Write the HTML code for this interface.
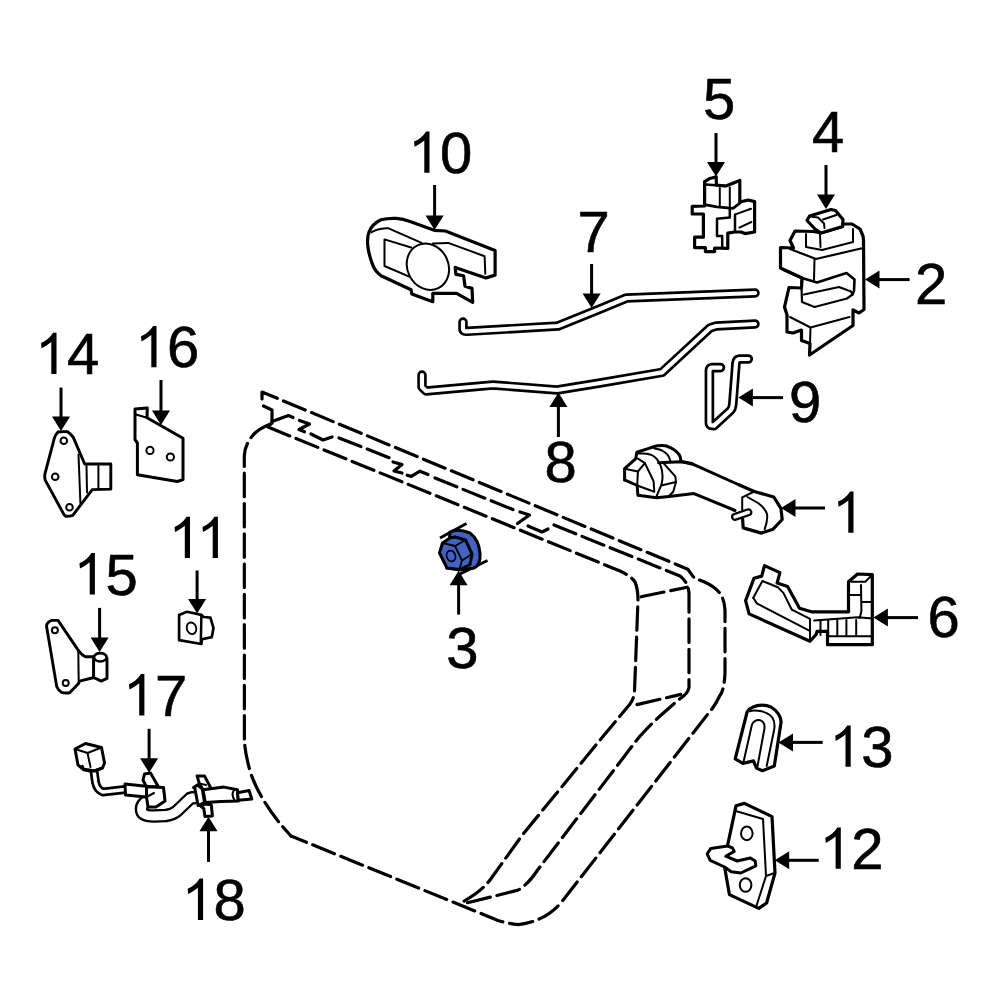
<!DOCTYPE html>
<html><head><meta charset="utf-8"><title>Door latch parts diagram</title>
<style>html,body{margin:0;padding:0;background:#fff;width:1000px;height:1000px;overflow:hidden}
svg{display:block}
text{font-family:"Liberation Sans",sans-serif;font-size:58px;fill:#000;stroke:#000;stroke-width:0.6px}</style></head>
<body><svg width="1000" height="1000" viewBox="0 0 1000 1000">
<rect width="1000" height="1000" fill="#fff"/>
<path d="M262,399 L262,392 L687.8,569.2 L694.4,578.2 L704,581.8 Q716,587 721,595 Q724.6,601 725,610 L725,672 Q724.5,690 719.6,696 Q715,706 708.8,712.8 L563.2,900 Q553,913 540,918.6 Q530,923.5 518.4,924.6 Q507,923.5 498,920.4 L291,836" fill="none" stroke="#000" stroke-width="3.20" stroke-linejoin="round" stroke-linecap="round" stroke-dasharray="23.5 6.8"/>
<path d="M270,424.2 Q255,430 249.5,440 Q244.4,447.5 244.3,456 L244.4,738 Q244.4,752 250.8,773.6 Q262,805 291,836" fill="none" stroke="#000" stroke-width="3.20" stroke-linejoin="round" stroke-linecap="round" stroke-dasharray="23.5 6.8"/>
<path d="M268,427 L620,571 Q631,576 635,582 Q638,589 638,600 L634.4,694 Q633,700 630,704 L600,740 L521.6,836 L490,880 Q481,892 462.4,902" fill="none" stroke="#000" stroke-width="3.20" stroke-linejoin="round" stroke-linecap="round" stroke-dasharray="23.5 6.8"/>
<path d="M263.5,406 L272,410 L272,423 L269,425.5" fill="none" stroke="#000" stroke-width="3.20" stroke-linejoin="round" stroke-linecap="round" />
<path d="M272,421.5 L288.5,415.5 L293,417.5" fill="none" stroke="#000" stroke-width="3.20" stroke-linejoin="round" stroke-linecap="round" />
<path d="M299.5,420.5 L309.5,424 L299,429.5 L304.5,431.8" fill="none" stroke="#000" stroke-width="3.20" stroke-linejoin="round" stroke-linecap="round" />
<path d="M311,434 L323,440 L332,437" fill="none" stroke="#000" stroke-width="3.20" stroke-linejoin="round" stroke-linecap="round" />
<path d="M339,438 L390,458" fill="none" stroke="#000" stroke-width="3.20" stroke-linejoin="round" stroke-linecap="round" stroke-dasharray="23.5 6.8"/>
<path d="M393,462 L402,464.5 L394,471 L402,473" fill="none" stroke="#000" stroke-width="3.20" stroke-linejoin="round" stroke-linecap="round" />
<path d="M407.2,475.2 L411.2,476.4 L420,471.2 L428,474.5" fill="none" stroke="#000" stroke-width="3.20" stroke-linejoin="round" stroke-linecap="round" />
<path d="M435,478 L514,510" fill="none" stroke="#000" stroke-width="3.20" stroke-linejoin="round" stroke-linecap="round" stroke-dasharray="23.5 6.8"/>
<path d="M520,512 L529.5,515 L517.5,523.5" fill="none" stroke="#000" stroke-width="3.20" stroke-linejoin="round" stroke-linecap="round" />
<path d="M528,526 L542,532 L548,529" fill="none" stroke="#000" stroke-width="3.20" stroke-linejoin="round" stroke-linecap="round" />
<path d="M554,525 L680,576 Q684,579 688,586 L689,593 L689,687.6 Q688,694 678.8,699.6 L660,716 Q645,730 636.8,740 L537.6,870 Q531,880 524.4,885.6 Q521,889 517.2,890.4 L464,903.6" fill="none" stroke="#000" stroke-width="3.20" stroke-linejoin="round" stroke-linecap="round" stroke-dasharray="23.5 6.8"/>
<path d="M641,596.8 L687.2,587.2" fill="none" stroke="#000" stroke-width="3.20" stroke-linejoin="round" stroke-linecap="round" stroke-dasharray="23.5 6.8"/>
<path d="M637,704.6 L680.8,694.4" fill="none" stroke="#000" stroke-width="3.20" stroke-linejoin="round" stroke-linecap="round" stroke-dasharray="23.5 6.8"/>
<path d="M434.2,230.3 L445.4,231 L495.1,250.6 L495.1,275.1 L486,277.9 L455.2,267.4 L455.9,274.4 L463.6,275.8 L465,286.3 L472,288.4 L472.7,302.4 L456.6,293.3 L432.8,293.3 L432.8,301.7 L411.8,294 L411.1,289.8 L381,275.8 Q375,271 372.6,264.6 Q368.5,254 367.7,245 Q367,237 369,232 Q372,224 381,219.8 Q388,218 396.4,218.4 Q403,219 410,221.5 Z" fill="#fff" stroke="#000" stroke-width="3.20" stroke-linejoin="round" stroke-linecap="round" />
<path d="M371.2,232.4 Q375,230 380,229 Q385,228 388,228.2 L421.6,242.9" fill="none" stroke="#000" stroke-width="2.00" stroke-linejoin="round" stroke-linecap="round" />
<path d="M432.8,243.6 L448.2,242.9 L484.6,256.2 L485.3,273.7" fill="none" stroke="#000" stroke-width="2.00" stroke-linejoin="round" stroke-linecap="round" />
<path d="M411.1,247.5 L384.5,239.4 L384.5,266.0 L410.4,277.2" fill="none" stroke="#000" stroke-width="2.00" stroke-linejoin="round" stroke-linecap="round" />
<ellipse cx="427.9" cy="266.7" rx="20.5" ry="23.8" transform="rotate(-26 427.9 266.7)" fill="#fff" stroke="#000" stroke-width="2"/>
<path d="M704.6,181.6 L709.0,178.8 L716.2,176.8 L716.4,185.2 L725.8,186.0 L739.8,180.4 L739.8,202.0 L748.2,200.0 L754.6,201.6 L754.6,232.0 L745.0,233.6 L741.0,232.0 L734.6,232.0 L727.8,233.2 L727.8,248.4 L714.6,248.0 L714.6,251.6 L705.4,251.6 L705.4,247.6 L694.6,247.6 L694.6,237.2 L703.4,237.2 L703.4,214.0 L692.2,214.0 L692.2,206.4 L704.6,206.0 Z" fill="#fff" stroke="#000" stroke-width="3.20" stroke-linejoin="round" stroke-linecap="round" />
<path d="M705.8,184.4 L725.8,186.0" fill="none" stroke="#000" stroke-width="2.50" stroke-linejoin="round" stroke-linecap="round" />
<path d="M719.8,188.0 L719.8,205.2" fill="none" stroke="#000" stroke-width="2.00" stroke-linejoin="round" stroke-linecap="round" />
<path d="M729.8,187.6 L729.8,208.4" fill="none" stroke="#000" stroke-width="2.00" stroke-linejoin="round" stroke-linecap="round" />
<path d="M705.8,204.8 L717.0,206.8 L733.0,208.4 L740.2,202.8" fill="none" stroke="#000" stroke-width="2.80" stroke-linejoin="round" stroke-linecap="round" />
<path d="M729.8,208.8 L729.8,217.6 L717.0,218.8 L717.0,236.0 L722.2,236.0 L722.2,247.2" fill="none" stroke="#000" stroke-width="2.50" stroke-linejoin="round" stroke-linecap="round" />
<path d="M735.0,214.8 L735.0,231.6" fill="none" stroke="#000" stroke-width="2.50" stroke-linejoin="round" stroke-linecap="round" />
<path d="M735.4,214.4 L751.0,208.8" fill="none" stroke="#000" stroke-width="2.00" stroke-linejoin="round" stroke-linecap="round" />
<path d="M739.4,227.6 L751.4,222.0" fill="none" stroke="#000" stroke-width="2.00" stroke-linejoin="round" stroke-linecap="round" />
<path d="M795.0,231.0 L813.5,231.5 L821.0,233.0 L842.5,226.5 L843.0,224.0 L852.0,224.0 L860.0,229.0 L863.0,236.0 L863.5,240.0 L864.0,309.5 L859.0,313.0 L853.0,310.0 L853.0,325.5 L809.5,355.0 L810.0,343.5 L801.5,340.5 L801.5,330.0 L793.0,333.0 L787.0,332.0 L787.0,315.0 L784.5,307.0 L789.0,287.5 L801.5,288.0 L802.0,278.0 L780.5,268.0 L780.5,247.5 L793.5,248.0 L790.0,240.5 Z" fill="#fff" stroke="#000" stroke-width="3.20" stroke-linejoin="round" stroke-linecap="round" />
<path d="M807.0,220.5 L809.5,216.0 L831.0,209.5 L835.5,210.5 L843.0,219.5 L842.5,226.5 L821.0,233.0 L815.0,229.0 Z" fill="#fff" stroke="#000" stroke-width="3.20" stroke-linejoin="round" stroke-linecap="round" />
<path d="M810.0,216.5 L818.0,217.5 L824.0,223.5 L824.5,228.0" fill="none" stroke="#000" stroke-width="2.00" stroke-linejoin="round" stroke-linecap="round" />
<path d="M823.0,219.5 L836.5,215.0" fill="none" stroke="#000" stroke-width="2.00" stroke-linejoin="round" stroke-linecap="round" />
<path d="M806.0,234.0 L806.0,247.0 L822.0,250.0 L853.0,242.0 L853.0,229.0" fill="none" stroke="#000" stroke-width="2.00" stroke-linejoin="round" stroke-linecap="round" />
<path d="M820.0,234.0 L820.5,247.0" fill="none" stroke="#000" stroke-width="2.00" stroke-linejoin="round" stroke-linecap="round" />
<path d="M790.0,249.0 L816.0,259.0 L863.0,248.0" fill="none" stroke="#000" stroke-width="2.20" stroke-linejoin="round" stroke-linecap="round" />
<path d="M814.5,259.0 L814.0,280.0" fill="none" stroke="#000" stroke-width="2.00" stroke-linejoin="round" stroke-linecap="round" />
<path d="M784.0,270.0 L802.0,278.0 L817.0,282.5 L846.5,273.0 L854.5,279.5 L854.0,291.0 L852.5,294.5" fill="none" stroke="#000" stroke-width="2.60" stroke-linejoin="round" stroke-linecap="round" />
<path d="M804.0,294.5 L839.0,287.0 L851.0,291.5 L852.5,294.5 L847.0,298.5 L814.5,307.0 L802.0,302.0 L801.5,288.0" fill="none" stroke="#000" stroke-width="2.20" stroke-linejoin="round" stroke-linecap="round" />
<path d="M790.0,317.0 L810.5,327.5 L849.5,317.0" fill="none" stroke="#000" stroke-width="2.00" stroke-linejoin="round" stroke-linecap="round" />
<path d="M810.5,327.5 L810.0,343.5" fill="none" stroke="#000" stroke-width="2.00" stroke-linejoin="round" stroke-linecap="round" />
<path d="M802.0,278.0 L801.5,288.0" fill="none" stroke="#000" stroke-width="2.60" stroke-linejoin="round" stroke-linecap="round" />
<path d="M463,322 L463,329 Q463,331.5 467,331.3 L558,326 L600,309 L626.5,298 L755,293" fill="none" stroke="#000" stroke-width="9.5" stroke-linejoin="round" stroke-linecap="round"/>
<path d="M463,322 L463,329 Q463,331.5 467,331.3 L558,326 L600,309 L626.5,298 L755,293" fill="none" stroke="#fff" stroke-width="4.2" stroke-linejoin="round" stroke-linecap="round"/>
<path d="M422,375 L422,387 L426,391 L493,385 L557,390 L600,383 L662,372.4 L710,328 L716,326 L755,324" fill="none" stroke="#000" stroke-width="9.5" stroke-linejoin="round" stroke-linecap="round"/>
<path d="M422,375 L422,387 L426,391 L493,385 L557,390 L600,383 L662,372.4 L710,328 L716,326 L755,324" fill="none" stroke="#fff" stroke-width="4.2" stroke-linejoin="round" stroke-linecap="round"/>
<path d="M720.5,367.6 L712,367.6 Q709.4,368 709.4,371 L709.4,423 Q709.6,425.2 712,425.4 L714,425.6 L730.5,410.5 Q732.4,408.5 732.8,404 L736,363 Q736.5,359.3 739.5,359 L748.3,359" fill="none" stroke="#000" stroke-width="9.6" stroke-linejoin="round" stroke-linecap="round"/>
<path d="M720.5,367.6 L712,367.6 Q709.4,368 709.4,371 L709.4,423 Q709.6,425.2 712,425.4 L714,425.6 L730.5,410.5 Q732.4,408.5 732.8,404 L736,363 Q736.5,359.3 739.5,359 L748.3,359" fill="none" stroke="#fff" stroke-width="4.2" stroke-linejoin="round" stroke-linecap="round"/>
<path d="M680.6,461.2 L692.8,464.2 L739.3,485.0" fill="none" stroke="#000" stroke-width="3.00" stroke-linejoin="round" stroke-linecap="round" />
<path d="M669.0,496.4 L694.0,493.6 L735.0,510.5" fill="none" stroke="#000" stroke-width="3.00" stroke-linejoin="round" stroke-linecap="round" />
<path d="M742.2,497.4 L754.3,491.5 L773.8,497 L780.9,508.4 L782.2,519.5 L773.1,529.2 L761.4,533.1 L743.2,527.9 L742.6,518.8 Z" fill="#fff" stroke="none"/>
<path d="M739.3,485 L754.3,491.5 L773.8,497 L780.9,508.4 L782.2,519.5 L773.1,529.2 L761.4,533.1 L743.2,527.9 L742.6,518.8" fill="none" stroke="#000" stroke-width="3.20" stroke-linejoin="round" stroke-linecap="round" />
<path d="M742.2,509.7 L742.2,497.4 L754.3,491.5" fill="none" stroke="#000" stroke-width="2.00" stroke-linejoin="round" stroke-linecap="round" />
<path d="M747.4,497 L758,503 Q765,508 767,514 Q768,520 764.7,529.2" fill="none" stroke="#000" stroke-width="2.00" stroke-linejoin="round" stroke-linecap="round" />
<path d="M735,516.9 L748.4,512.3" fill="none" stroke="#000" stroke-width="8" stroke-linecap="round"/>
<path d="M735,516.9 L748.4,512.3" fill="none" stroke="#fff" stroke-width="3.6" stroke-linecap="round"/>
<path d="M624.6,468.7 L635.8,458.6 L636.8,452.3 L646.6,449.1 L652.9,447 Q657,445.6 662,445.6 Q667,445.6 670.4,447.7 Q674,449.5 676.7,451.9 Q679.5,454.5 680.2,456.8 Q681,459 680.6,461.5 L676,482 L669,496.4 L656.4,497.8 L637.9,495.3 L637.2,485.5 L624.6,479.9 Z" fill="#fff" stroke="none"/>
<path d="M624.6,479.9 L624.6,468.7 L635.8,458.6 L636.8,452.3 L646.6,449.1 L652.9,447 Q657,445.6 662,445.6 Q667,445.6 670.4,447.7 Q674,449.5 676.7,451.9 Q679.5,454.5 680.2,456.8 Q681,459 680.6,461.5" fill="none" stroke="#000" stroke-width="3.00" stroke-linejoin="round" stroke-linecap="round" />
<path d="M624.6,479.9 L637.2,485.5 L637.9,495.3 L656.4,497.8 L669,496.4" fill="none" stroke="#000" stroke-width="3.00" stroke-linejoin="round" stroke-linecap="round" />
<path d="M658.5,462.8 L680.9,461.7 L692,463.4" fill="none" stroke="#000" stroke-width="3.00" stroke-linejoin="round" stroke-linecap="round" />
<path d="M624.6,468.7 L637.9,471.5 L644.9,463.1 L637.9,458.6" fill="none" stroke="#000" stroke-width="2.00" stroke-linejoin="round" stroke-linecap="round" />
<path d="M637.9,471.5 L637.2,485.5" fill="none" stroke="#000" stroke-width="2.00" stroke-linejoin="round" stroke-linecap="round" />
<path d="M644.9,463.1 L653.6,481.3 L654.3,491.8 L637.2,485.5" fill="none" stroke="#000" stroke-width="2.00" stroke-linejoin="round" stroke-linecap="round" />
<path d="M638.5,453.6 Q646,453 650.8,454.7 Q656,457 659.2,462.4 Q661,466 662,470.8 Q662.8,476 662.4,479.2 Q662,483 661.3,484.8 L656.4,496.7" fill="none" stroke="#000" stroke-width="2.00" stroke-linejoin="round" stroke-linecap="round" />
<path d="M654.3,448.4 Q659,449 662,450.5 Q665.5,452.5 667.6,454.7 Q669.5,457.5 670.4,460.7" fill="none" stroke="#000" stroke-width="2.00" stroke-linejoin="round" stroke-linecap="round" />
<path d="M664.1,463.8 L675.3,476.4 L676.0,482.0 L673.2,491.8 L669.0,496.0" fill="none" stroke="#000" stroke-width="2.00" stroke-linejoin="round" stroke-linecap="round" />
<path d="M661.3,485.5 L676.0,482.0" fill="none" stroke="#000" stroke-width="2.00" stroke-linejoin="round" stroke-linecap="round" />
<path d="M745.6,600.6 L754.0,578.2 L761.7,576.1 L764.5,565.6 L779.9,572.6 L777.1,583.1 L787.6,586.6 L799.5,608.3 L811.4,611.8 L848.5,611.8 L848.5,581.7 L857.6,574.0 L872.3,574.7 L872.3,644.7 L827.5,644.7 L827.5,631.4 L817.0,631.4 L816.3,634.2 L810.0,641.2 L749.1,613.9 Z" fill="#fff" stroke="#000" stroke-width="3.20" stroke-linejoin="round" stroke-linecap="round" />
<path d="M753.3,597.8 L762.4,581.0 L777.8,587.3 L783.4,592.9 L791.8,609.7 L810.0,618.8 L810.0,639.8" fill="none" stroke="#000" stroke-width="2.00" stroke-linejoin="round" stroke-linecap="round" />
<path d="M753.3,597.8 L756.8,603.4 L809.3,630.7" fill="none" stroke="#000" stroke-width="2.00" stroke-linejoin="round" stroke-linecap="round" />
<path d="M851.3,581.7 L865.3,581.7 L872.3,574.7" fill="none" stroke="#000" stroke-width="2.00" stroke-linejoin="round" stroke-linecap="round" />
<path d="M861.0,585.0 L861.4,611.0 L859.7,618.0" fill="none" stroke="#000" stroke-width="2.00" stroke-linejoin="round" stroke-linecap="round" />
<path d="M850.6,595.0 L860.4,595.0" fill="none" stroke="#000" stroke-width="2.00" stroke-linejoin="round" stroke-linecap="round" />
<path d="M861.8,602.0 L871.6,602.0" fill="none" stroke="#000" stroke-width="2.00" stroke-linejoin="round" stroke-linecap="round" />
<path d="M814.2,620.6 L857.6,617.2 L872.3,618.4" fill="none" stroke="#000" stroke-width="2.00" stroke-linejoin="round" stroke-linecap="round" />
<path d="M828.2,636.3 L872.3,636.3" fill="none" stroke="#000" stroke-width="2.00" stroke-linejoin="round" stroke-linecap="round" />
<path d="M820.5,620.0 L820.5,635.0" fill="none" stroke="#000" stroke-width="2.00" stroke-linejoin="round" stroke-linecap="round" />
<path d="M828.2,620.0 L828.2,635.0" fill="none" stroke="#000" stroke-width="2.00" stroke-linejoin="round" stroke-linecap="round" />
<path d="M837.3,620.0 L837.3,635.0" fill="none" stroke="#000" stroke-width="2.00" stroke-linejoin="round" stroke-linecap="round" />
<path d="M846.4,620.0 L846.4,635.0" fill="none" stroke="#000" stroke-width="2.00" stroke-linejoin="round" stroke-linecap="round" />
<path d="M856.2,620.0 L856.2,635.0" fill="none" stroke="#000" stroke-width="2.00" stroke-linejoin="round" stroke-linecap="round" />
<path d="M735.2,758.8 L747.1,712 Q749,708.5 753.1,707 Q757,705.2 762,705.2 Q767,705.2 771,707 Q776,710 778.5,714 Q781,718 781.1,722 L774.3,766 L762.4,770.7 L756.5,768.1 L753.5,760.9 L742.9,763.4 Z" fill="#fff" stroke="#000" stroke-width="3.20" stroke-linejoin="round" stroke-linecap="round" />
<path d="M749.7,711.2 C755,709.5 768,711 772.6,718 C774.5,721 774.8,725 774.3,729 L766.7,766" fill="none" stroke="#000" stroke-width="2.00" stroke-linejoin="round" stroke-linecap="round" />
<path d="M743.7,761.3 L751.8,725.2 C752.5,722 756,720 759,720.1 C762,720.2 765,723 764.5,728.2 L757.3,767.3" fill="none" stroke="#000" stroke-width="2.00" stroke-linejoin="round" stroke-linecap="round" />
<path d="M727.6,845.4 L736.0,805.8 L744.4,803.4 L772.0,816.6 L775.0,873.0 L766.6,903.0 L758.8,908.4 L729.4,894.6 L724.6,867.0 Z" fill="#fff" stroke="#000" stroke-width="3.20" stroke-linejoin="round" stroke-linecap="round" />
<path d="M736.6,811.2 L763.0,819.0 L766.0,876.0 L756.4,906.0" fill="none" stroke="#000" stroke-width="2.00" stroke-linejoin="round" stroke-linecap="round" />
<path d="M766.0,876.0 L774.4,873.0" fill="none" stroke="#000" stroke-width="2.00" stroke-linejoin="round" stroke-linecap="round" />
<ellipse cx="746.8" cy="833.4" rx="5.8" ry="6.8" fill="#fff" stroke="#000" stroke-width="2"/>
<ellipse cx="745.6" cy="885" rx="5.8" ry="6.8" fill="#fff" stroke="#000" stroke-width="2"/>
<path d="M724.6,867.0 L710.2,860.4 L707.2,853.8 L710.8,848.4 L727.6,846.0 L732.4,847.8 L734.2,851.4 L725.8,856.2 L737.2,861.0 L750.4,858.0 L755.2,861.0 L755.8,865.8 L740.8,873.0 L731.2,871.8 Z" fill="#fff" stroke="#000" stroke-width="3.00" stroke-linejoin="round" stroke-linecap="round" />
<path d="M466.5,523.5 L440,538" stroke="#000" stroke-width="3" fill="none"/>
<path d="M487.5,560.5 L460,574" stroke="#000" stroke-width="3" fill="none"/>
<path d="M450,532 Q458,528 470,533 Q479,540 480,553 Q481,565 474,568 L460,570 L447,568 Z" fill="#4262c4" stroke="#000" stroke-width="3"/>
<path d="M439.5,553.0 L442.5,543.0 L450.0,538.0 L455.0,537.0 L465.5,540.0 L472.0,554.0 L470.0,564.5 L460.0,569.5 L447.0,568.0 Z" fill="#4262c4" stroke="#000" stroke-width="3" stroke-linejoin="round"/>
<path d="M442.5,543.0 L455.0,546.0 L465.5,540.0" fill="none" stroke="#000" stroke-width="1.80" stroke-linejoin="round" stroke-linecap="round" />
<path d="M455.0,546.0 L462.0,560.5 L472.0,554.0" fill="none" stroke="#000" stroke-width="1.80" stroke-linejoin="round" stroke-linecap="round" />
<path d="M462.0,560.5 L459.5,569.0" fill="none" stroke="#000" stroke-width="1.80" stroke-linejoin="round" stroke-linecap="round" />
<ellipse cx="451" cy="556" rx="4.3" ry="5.5" transform="rotate(-20 451 556)" fill="none" stroke="#000" stroke-width="1.8"/>
<path d="M58,432 Q60,431.6 63,431.6 L67.6,431.7 Q70.5,433.5 73.3,437.4 L84.7,464 L110.8,464 L110.8,489.1 L92.3,489.6 L72.8,515.3 Q69,516.5 65.7,516.2 Q64,515 63.3,513.4 L45.2,480.1 Q44.5,477 44.8,474.4 L54.3,438.3 Q55.5,434.5 58,432 Z" fill="#fff" stroke="#000" stroke-width="2.90" stroke-linejoin="round" stroke-linecap="round" />
<path d="M78.5,454.5 L80.4,502.9" fill="none" stroke="#000" stroke-width="2.00" stroke-linejoin="round" stroke-linecap="round" />
<path d="M86.5,465.9 L87.0,492.5" fill="none" stroke="#000" stroke-width="2.00" stroke-linejoin="round" stroke-linecap="round" />
<path d="M98.4,465.9 L98.4,488.2" fill="none" stroke="#000" stroke-width="2.00" stroke-linejoin="round" stroke-linecap="round" />
<circle cx="63.8" cy="440.7" r="3.3" fill="#fff" stroke="#000" stroke-width="2"/>
<circle cx="55.2" cy="476.8" r="3.3" fill="#fff" stroke="#000" stroke-width="2"/>
<circle cx="69.5" cy="507.2" r="3.3" fill="#fff" stroke="#000" stroke-width="2"/>
<path d="M135.0,409.0 L147.3,408.0 L147.0,417.8 L183.0,438.2 L183.0,479.6 L177.3,481.5 L137.4,474.8 L137.4,443.0 L135.0,439.7 Z" fill="#fff" stroke="#000" stroke-width="3.00" stroke-linejoin="round" stroke-linecap="round" />
<path d="M135.9,414.5 L147.0,417.8" fill="none" stroke="#000" stroke-width="2.00" stroke-linejoin="round" stroke-linecap="round" />
<circle cx="150.0" cy="450.4" r="3.6" fill="#fff" stroke="#000" stroke-width="2"/>
<circle cx="170.4" cy="457.0" r="3.6" fill="#fff" stroke="#000" stroke-width="2"/>
<path d="M179.1,614.9 L187.0,611.8 L201.4,614.9 L203.6,617.0 L210.4,617.6 L213.5,628.1 L211.8,637.1 L201.9,639.3 L201.4,644.0 L179.1,640.2 Z" fill="#fff" stroke="#000" stroke-width="2.70" stroke-linejoin="round" stroke-linecap="round" />
<path d="M201.4,614.9 L200.8,643.0" fill="none" stroke="#000" stroke-width="2.50" stroke-linejoin="round" stroke-linecap="round" />
<ellipse cx="191.5" cy="628.3" rx="4.7" ry="5.9" transform="rotate(-18 191.5 628.3)" fill="none" stroke="#000" stroke-width="1.9"/>
<path d="M46.5,626 Q47,622 51.7,620.4 L58,620.4 L77.8,649.6 Q82,655.5 85.9,656.8 L94,656.8 L94,677.5 L79.6,681.1 L78.3,683.8 L69.7,692.8 Q65,693.5 61.6,692.4 Q58,690 56.7,686.5 Z" fill="#fff" stroke="#000" stroke-width="2.90" stroke-linejoin="round" stroke-linecap="round" />
<path d="M78.3,651.4 L78.7,682.0" fill="none" stroke="#000" stroke-width="2.00" stroke-linejoin="round" stroke-linecap="round" />
<path d="M93.6,657.3 L93.6,677.5 L101.2,681.1 L107,678.4 L107,657.3" fill="#fff" stroke="#000" stroke-width="2.9" stroke-linejoin="round"/>
<ellipse cx="100.3" cy="657.3" rx="6.3" ry="4.2" fill="#fff" stroke="#000" stroke-width="2.6"/>
<circle cx="54.9" cy="630.3" r="3.0" fill="#fff" stroke="#000" stroke-width="2"/>
<circle cx="65.7" cy="682.9" r="3.0" fill="#fff" stroke="#000" stroke-width="2"/>
<path d="M94,771 L95.5,782 Q97,790 103,792 L125,789.5" fill="none" stroke="#000" stroke-width="9" stroke-linejoin="round"/>
<path d="M94,771 L95.5,782 Q97,790 103,792 L125,789.5" fill="none" stroke="#fff" stroke-width="3.6" stroke-linejoin="round"/>
<path d="M75.0,749.0 L85.5,743.5 L101.5,747.5 L104.5,763.0 L102.5,768.0 L95.0,771.0 L83.0,769.0 L78.0,765.0 Z" fill="#fff" stroke="#000" stroke-width="3.00" stroke-linejoin="round" stroke-linecap="round" />
<path d="M75.0,749.0 L87.5,753.0 L101.5,747.5" fill="none" stroke="#000" stroke-width="2.00" stroke-linejoin="round" stroke-linecap="round" />
<path d="M87.5,753.0 L90.5,767.0" fill="none" stroke="#000" stroke-width="2.00" stroke-linejoin="round" stroke-linecap="round" />
<path d="M82.5,766.0 L83.5,770.0 L91.5,771.5 L102.0,768.0" fill="none" stroke="#000" stroke-width="2.50" stroke-linejoin="round" stroke-linecap="round" />
<path d="M149,800 Q141,803.5 141.5,810 Q142,816 154,816 L166,815.5 Q173,814.5 177,811 L190,798.5 Q192,797.6 196,797.6" fill="none" stroke="#000" stroke-width="13.5" stroke-linejoin="round"/>
<path d="M149,800 Q141,803.5 141.5,810 Q142,816 154,816 L166,815.5 Q173,814.5 177,811 L190,798.5 Q192,797.6 196,797.6" fill="none" stroke="#fff" stroke-width="8.8" stroke-linejoin="round"/>
<path d="M143.0,780.0 L144.5,774.0 L150.5,773.0 L158.5,787.0 L146.5,787.0 Z" fill="#fff" stroke="#000" stroke-width="3.00" stroke-linejoin="round" stroke-linecap="round" />
<path d="M125.0,784.0 L158.0,787.5 L163.0,788.0 L164.0,797.0 L146.0,797.0 L125.5,795.0 Z" fill="#fff" stroke="#000" stroke-width="3.00" stroke-linejoin="round" stroke-linecap="round" />
<path d="M146.5,786.8 L163.5,787.5 L165.0,801.0 L156.0,807.0 L148.0,807.0 L146.5,797.0 Z" fill="#fff" stroke="#000" stroke-width="3.00" stroke-linejoin="round" stroke-linecap="round" />
<path d="M146.5,797.0 L154.0,793.0" fill="none" stroke="#000" stroke-width="2.00" stroke-linejoin="round" stroke-linecap="round" />
<path d="M197.0,775.9 L204.5,775.9 L211.3,789.0 L203.0,789.8 L199.3,783.4 Z" fill="#fff" stroke="#000" stroke-width="3.00" stroke-linejoin="round" stroke-linecap="round" />
<path d="M199.3,783.4 L206.0,785.0" fill="none" stroke="#000" stroke-width="2.00" stroke-linejoin="round" stroke-linecap="round" />
<path d="M203.0,789.8 L224.0,787.1 L237.5,789.8 L238.3,801.0 L221.0,801.4 L205.3,802.5 Z" fill="#fff" stroke="#000" stroke-width="3.00" stroke-linejoin="round" stroke-linecap="round" />
<path d="M233.8,790.5 Q231,795 234.5,799.9" fill="none" stroke="#000" stroke-width="2.00" stroke-linejoin="round" stroke-linecap="round" />
<path d="M237.5,792.8 L249.1,790.5 L251.8,799.1 L238.3,800.3 Z" fill="#fff" stroke="#000" stroke-width="3.00" stroke-linejoin="round" stroke-linecap="round" />
<path d="M200.0,805.5 L206.0,804.0 L211.3,804.8 L212.4,816.0 L204.9,816.4 L203.8,808.5 Z" fill="#fff" stroke="#000" stroke-width="3.00" stroke-linejoin="round" stroke-linecap="round" />
<path d="M193.6,787.5 L197.4,784.9 L202.3,789.0 L204.5,802.5 L198.1,805.5 L194.8,788.3 Z" fill="#fff" stroke="#000" stroke-width="3.00" stroke-linejoin="round" stroke-linecap="round" />
<rect x="433.1" y="185.0" width="3.0" height="31.5" fill="#000"/>
<path d="M425.6,215.5 L443.6,215.5 L434.6,230.0 Z" fill="#000"/>
<rect x="714.5" y="133.0" width="3.0" height="30.0" fill="#000"/>
<path d="M707.0,162.0 L725.0,162.0 L716.0,176.5 Z" fill="#000"/>
<rect x="824.5" y="165.0" width="3.0" height="30.5" fill="#000"/>
<path d="M817.0,194.5 L835.0,194.5 L826.0,209.0 Z" fill="#000"/>
<rect x="590.1" y="264.0" width="3.0" height="30.5" fill="#000"/>
<path d="M582.6,293.5 L600.6,293.5 L591.6,308.0 Z" fill="#000"/>
<rect x="59.5" y="387.6" width="3.0" height="29.9" fill="#000"/>
<path d="M52.0,416.5 L70.0,416.5 L61.0,431.0 Z" fill="#000"/>
<rect x="159.5" y="380.0" width="3.0" height="31.5" fill="#000"/>
<path d="M152.0,410.5 L170.0,410.5 L161.0,425.0 Z" fill="#000"/>
<rect x="195.6" y="570.5" width="3.0" height="29.4" fill="#000"/>
<path d="M188.1,598.9 L206.1,598.9 L197.1,613.4 Z" fill="#000"/>
<rect x="98.1" y="607.9" width="3.0" height="30.5" fill="#000"/>
<path d="M90.6,637.4 L108.6,637.4 L99.6,651.9 Z" fill="#000"/>
<rect x="147.6" y="728.8" width="3.0" height="30.5" fill="#000"/>
<path d="M140.1,758.3 L158.1,758.3 L149.1,772.8 Z" fill="#000"/>
<rect x="207.0" y="830.3" width="3.0" height="31.6" fill="#000"/>
<path d="M199.5,831.3 L217.5,831.3 L208.5,816.8 Z" fill="#000"/>
<rect x="457.1" y="584.3" width="3.0" height="30.3" fill="#000"/>
<path d="M449.6,585.3 L467.6,585.3 L458.6,570.8 Z" fill="#000"/>
<rect x="556.9" y="405.9" width="3.0" height="31.1" fill="#000"/>
<path d="M549.4,406.9 L567.4,406.9 L558.4,392.4 Z" fill="#000"/>
<rect x="878.5" y="278.1" width="31.1" height="3.0" fill="#000"/>
<path d="M879.5,270.6 L879.5,288.6 L865.0,279.6 Z" fill="#000"/>
<rect x="751.9" y="396.1" width="31.1" height="3.0" fill="#000"/>
<path d="M752.9,388.6 L752.9,406.6 L738.4,397.6 Z" fill="#000"/>
<rect x="794.5" y="506.5" width="30.5" height="3.0" fill="#000"/>
<path d="M795.5,499.0 L795.5,517.0 L781.0,508.0 Z" fill="#000"/>
<rect x="886.9" y="616.1" width="31.1" height="3.0" fill="#000"/>
<path d="M887.9,608.6 L887.9,626.6 L873.4,617.6 Z" fill="#000"/>
<rect x="792.0" y="740.9" width="30.7" height="3.0" fill="#000"/>
<path d="M793.0,733.4 L793.0,751.4 L778.5,742.4 Z" fill="#000"/>
<rect x="788.2" y="858.8" width="30.5" height="3.0" fill="#000"/>
<path d="M789.2,851.3 L789.2,869.3 L774.7,860.3 Z" fill="#000"/>
<path d="M426.1,131.4 L429.5,131.4 L429.5,172.7 L424.3,172.7 L424.3,140.5 C421.3,142.9 417.8,145.2 414.5,146.8 L414.1,141.6 C418.8,139.4 422.8,136.4 426.1,131.4 Z" fill="#000"/>
<text x="440.0" y="172.8">0</text>
<text x="703.0" y="119.4">5</text>
<text x="812.0" y="151.8">4</text>
<text x="577.6" y="251.6">7</text>
<text x="915.0" y="303.8">2</text>
<path d="M53.1,332.8 L56.5,332.8 L56.5,374.1 L51.3,374.1 L51.3,341.9 C48.3,344.3 44.8,346.6 41.5,348.2 L41.1,343.0 C45.8,340.8 49.8,337.8 53.1,332.8 Z" fill="#000"/>
<text x="67.0" y="374.2">4</text>
<path d="M153.1,326.0 L156.5,326.0 L156.5,367.3 L151.3,367.3 L151.3,335.1 C148.3,337.5 144.8,339.8 141.5,341.4 L141.1,336.2 C145.8,334.0 149.8,331.0 153.1,326.0 Z" fill="#000"/>
<text x="167.0" y="367.4">6</text>
<text x="789.0" y="421.8">9</text>
<text x="544.6" y="481.8">8</text>
<path d="M850.1,491.4 L853.5,491.4 L853.5,532.7 L848.3,532.7 L848.3,500.5 C845.3,502.9 841.8,505.2 838.5,506.8 L838.1,501.6 C842.8,499.4 846.8,496.4 850.1,491.4 Z" fill="#000"/>
<path d="M186.6,516.7 L190.0,516.7 L190.0,558.0 L184.8,558.0 L184.8,525.8 C181.8,528.2 178.3,530.5 175.0,532.1 L174.6,526.9 C179.3,524.7 183.3,521.7 186.6,516.7 Z" fill="#000"/>
<path d="M214.5,516.7 L217.9,516.7 L217.9,558.0 L212.7,558.0 L212.7,525.8 C209.7,528.2 206.2,530.5 202.9,532.1 L202.5,526.9 C207.2,524.7 211.2,521.7 214.5,516.7 Z" fill="#000"/>
<path d="M91.5,553.1 L94.9,553.1 L94.9,594.4 L89.7,594.4 L89.7,562.2 C86.7,564.6 83.2,566.9 79.9,568.5 L79.5,563.3 C84.2,561.1 88.2,558.1 91.5,553.1 Z" fill="#000"/>
<text x="105.4" y="594.5">5</text>
<text x="446.2" y="668.4">3</text>
<text x="927.6" y="636.9">6</text>
<path d="M141.0,674.1 L144.4,674.1 L144.4,715.4 L139.2,715.4 L139.2,683.2 C136.2,685.6 132.7,687.9 129.4,689.5 L129.0,684.3 C133.7,682.1 137.7,679.1 141.0,674.1 Z" fill="#000"/>
<text x="154.9" y="715.5">7</text>
<path d="M847.3,725.5 L850.7,725.5 L850.7,766.8 L845.5,766.8 L845.5,734.6 C842.5,737.0 839.0,739.3 835.7,740.9 L835.3,735.7 C840.0,733.5 844.0,730.5 847.3,725.5 Z" fill="#000"/>
<text x="861.2" y="766.9">3</text>
<path d="M837.4,827.5 L840.8,827.5 L840.8,868.8 L835.6,868.8 L835.6,836.6 C832.6,839.0 829.1,841.3 825.8,842.9 L825.4,837.7 C830.1,835.5 834.1,832.5 837.4,827.5 Z" fill="#000"/>
<text x="851.3" y="868.9">2</text>
<path d="M199.7,878.6 L203.1,878.6 L203.1,919.9 L197.9,919.9 L197.9,887.7 C194.9,890.1 191.4,892.4 188.1,894.0 L187.7,888.8 C192.4,886.6 196.4,883.6 199.7,878.6 Z" fill="#000"/>
<text x="213.6" y="920.0">8</text>
</svg></body></html>
